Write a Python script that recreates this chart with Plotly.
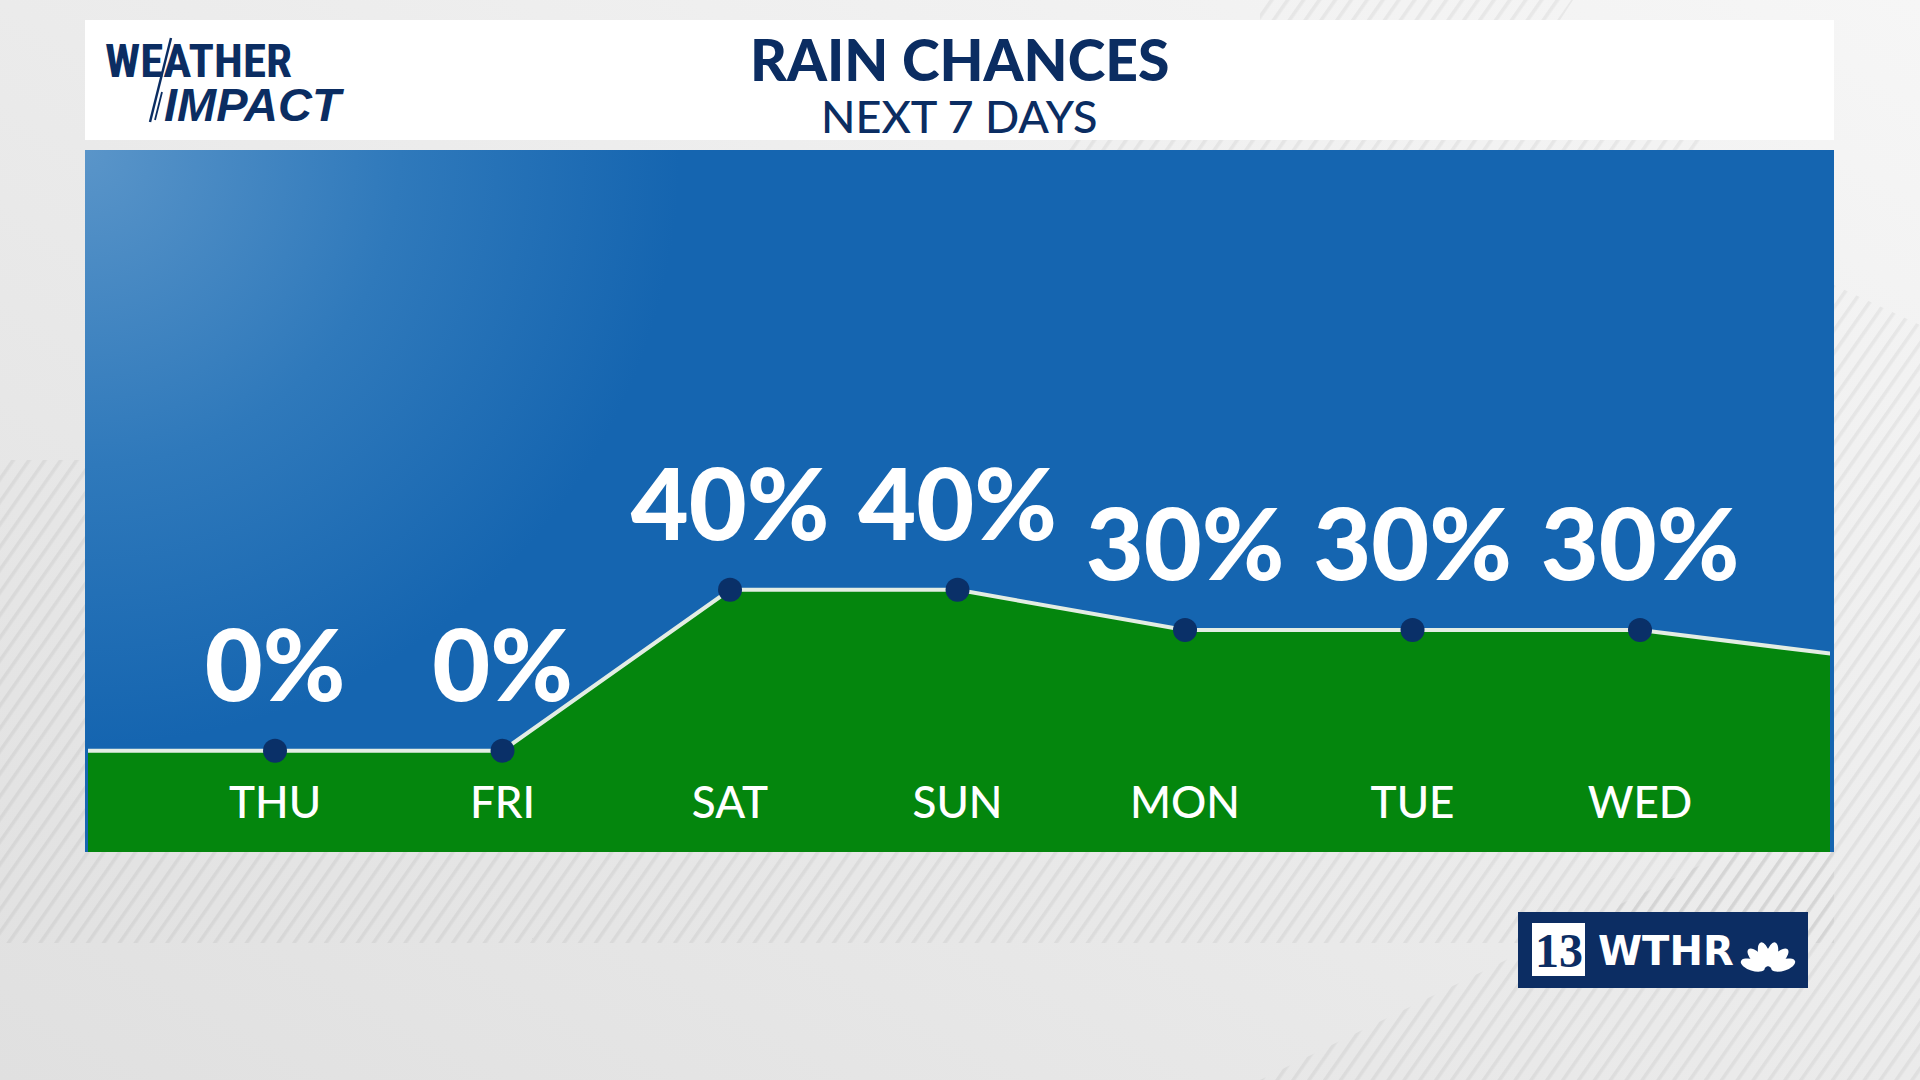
import base64, math
import plotly.graph_objects as go

# ---------------- data ----------------
DAYS = ["THU", "FRI", "SAT", "SUN", "MON", "TUE", "WED"]
RAIN_PCT = [0, 0, 40, 40, 30, 30, 30]
PREV_DAY_PCT = 0      # value the line enters with at the left edge
NEXT_DAY_PCT = 23     # value the line heads to past the right edge (estimated)
TITLE = "RAIN CHANCES"
SUBTITLE = "NEXT 7 DAYS"

# ---------------- layout constants ----------------
W, H = 1920, 1080
PLOT_L, PLOT_R, PLOT_T, PLOT_B = 88, 1830, 150, 852
X_RANGE = [-0.822, 6.835]
Y_RANGE = [-25.2, 149.4]
LABEL_Y = -14.0

NAVY = "#0b2d62"
BLUE = "#1565b0"
GREEN = "#04860d"
LINE = "#e3ede3"
DOT = "#0a3068"

# ---------------- decorative background (SVG) ----------------
petals = []
bx, by = 1768, 970
for k in range(6):
    a = 162 - k * 28.8
    cx = bx + 16 * math.cos(math.radians(a))
    cy = by - 16 * math.sin(math.radians(a))
    petals.append(
        f'<ellipse cx="{cx:.1f}" cy="{cy:.1f}" rx="12.5" ry="5.6" fill="#fff" '
        f'transform="rotate({-a:.1f} {cx:.1f} {cy:.1f})"/>'
    )
petals = "".join(petals)

svg = f'''<svg xmlns="http://www.w3.org/2000/svg" width="{W}" height="{H}" viewBox="0 0 {W} {H}">
<defs>
<linearGradient id="bg" x1="0" y1="1" x2="1" y2="0">
<stop offset="0" stop-color="#e0e0e0"/><stop offset="1" stop-color="#f6f6f6"/></linearGradient>
<pattern id="hatch" width="13" height="13" patternUnits="userSpaceOnUse" patternTransform="rotate(35)">
<rect x="0" y="0" width="3.5" height="13" fill="#000" fill-opacity="0.05"/></pattern>
<radialGradient id="blue" gradientUnits="userSpaceOnUse" cx="85" cy="150" r="700">
<stop offset="0" stop-color="#5a95c9"/><stop offset="0.45" stop-color="#2f79bb"/>
<stop offset="0.85" stop-color="{BLUE}"/><stop offset="1" stop-color="{BLUE}"/></radialGradient>
</defs>
<rect width="{W}" height="{H}" fill="url(#bg)"/>
<polygon points="0,460 85,460 85,852 1834,852 1834,943 0,943" fill="url(#hatch)"/>
<polygon points="1834,285 1920,325 1920,1080 1260,1080 1834,800" fill="url(#hatch)"/>
<polygon points="1260,0 1573,0 1560,20 1260,20" fill="url(#hatch)"/>
<polygon points="1065,140 1708,140 1700,150 1065,150" fill="url(#hatch)"/>
<rect x="85" y="20" width="1749" height="120" fill="#ffffff"/>
<rect x="85" y="150" width="1749" height="702" fill="url(#blue)"/>
<line x1="171" y1="38" x2="150" y2="122" stroke="{NAVY}" stroke-width="2.5"/>
<line x1="162" y1="92" x2="155" y2="120" stroke="{NAVY}" stroke-width="1.8"/>
<rect x="1518" y="912" width="290" height="76" fill="#0c2d63"/>
<rect x="1532" y="923" width="53" height="53" fill="#ffffff"/>
{petals}
</svg>'''
svg_uri = "data:image/svg+xml;base64," + base64.b64encode(svg.encode()).decode()

# ---------------- figure ----------------
fig = go.Figure()

x_idx = list(range(len(DAYS)))
x_line = [-1] + x_idx + [len(DAYS)]
y_line = [PREV_DAY_PCT] + RAIN_PCT + [NEXT_DAY_PCT]

# baseline for the fill
fig.add_trace(go.Scatter(
    x=[x_line[0], x_line[-1]], y=[Y_RANGE[0], Y_RANGE[0]],
    mode="lines", line=dict(width=0, color=GREEN), hoverinfo="skip", showlegend=False))

# green area with light edge line
fig.add_trace(go.Scatter(
    x=x_line, y=y_line, mode="lines", fill="tonexty", fillcolor=GREEN,
    line=dict(color=LINE, width=4), hoverinfo="skip", showlegend=False))

# dots
fig.add_trace(go.Scatter(
    x=x_idx, y=RAIN_PCT, mode="markers",
    marker=dict(size=24, color=DOT), showlegend=False))

# percentage labels
fig.add_trace(go.Scatter(
    x=x_idx, y=RAIN_PCT, mode="markers+text",
    marker=dict(size=38, color="rgba(0,0,0,0)"),
    text=[f"{v}%" for v in RAIN_PCT], textposition="top center",
    textfont=dict(family="Lato, Open Sans, sans-serif", size=100, color="white", weight=900),
    cliponaxis=False, hoverinfo="skip", showlegend=False))

# day labels
fig.add_trace(go.Scatter(
    x=x_idx, y=[LABEL_Y] * len(DAYS), mode="text", text=DAYS,
    textposition="middle center",
    textfont=dict(family="Lato, Open Sans, sans-serif", size=44, color="white", weight=500),
    hoverinfo="skip", showlegend=False))

annotations = [
    dict(text=TITLE, x=959.5 / W, y=1 - 59 / H, xref="paper", yref="paper",
         xanchor="center", yanchor="middle", showarrow=False,
         font=dict(family="Lato, sans-serif", size=57, color=NAVY, weight=900)),
    dict(text=SUBTITLE, x=959.5 / W, y=1 - 116 / H, xref="paper", yref="paper",
         xanchor="center", yanchor="middle", showarrow=False,
         font=dict(family="Lato, sans-serif", size=45, color=NAVY, weight=500)),
    dict(text="<b>WEATHER</b>", x=103 / W, y=1 - 61 / H, xref="paper", yref="paper",
         xanchor="left", yanchor="middle", showarrow=False,
         font=dict(family="Liberation Sans Narrow, Roboto Condensed, Roboto, sans-serif", size=47, color=NAVY)),
    dict(text="<b><i>IMPACT</i></b>", x=162 / W, y=1 - 104 / H, xref="paper", yref="paper",
         xanchor="left", yanchor="middle", showarrow=False,
         font=dict(family="Liberation Sans, Arial, sans-serif", size=47, color=NAVY)),
    dict(text="<b>13</b>", x=1558.5 / W, y=1 - 950 / H, xref="paper", yref="paper",
         xanchor="center", yanchor="middle", showarrow=False,
         font=dict(family="Liberation Serif, DejaVu Serif, serif", size=48, color="#0c2d63")),
    dict(text="<b>WTHR</b>", x=1596 / W, y=1 - 951 / H, xref="paper", yref="paper",
         xanchor="left", yanchor="middle", showarrow=False,
         font=dict(family="DejaVu Sans, sans-serif", size=40, color="white")),
]

fig.update_layout(
    width=W, height=H,
    margin=dict(l=0, r=0, t=0, b=0),
    paper_bgcolor="#e6e6e6",
    plot_bgcolor="rgba(0,0,0,0)",
    showlegend=False,
    xaxis=dict(domain=[PLOT_L / W, PLOT_R / W], range=X_RANGE, visible=False, fixedrange=True),
    yaxis=dict(domain=[1 - PLOT_B / H, 1 - PLOT_T / H], range=Y_RANGE, visible=False, fixedrange=True),
    images=[dict(source=svg_uri, xref="paper", yref="paper", x=0, y=1, sizex=1, sizey=1,
                 xanchor="left", yanchor="top", sizing="stretch", layer="below")],
    annotations=annotations,
)

fig.write_html("out.html", config={"displayModeBar": False})
